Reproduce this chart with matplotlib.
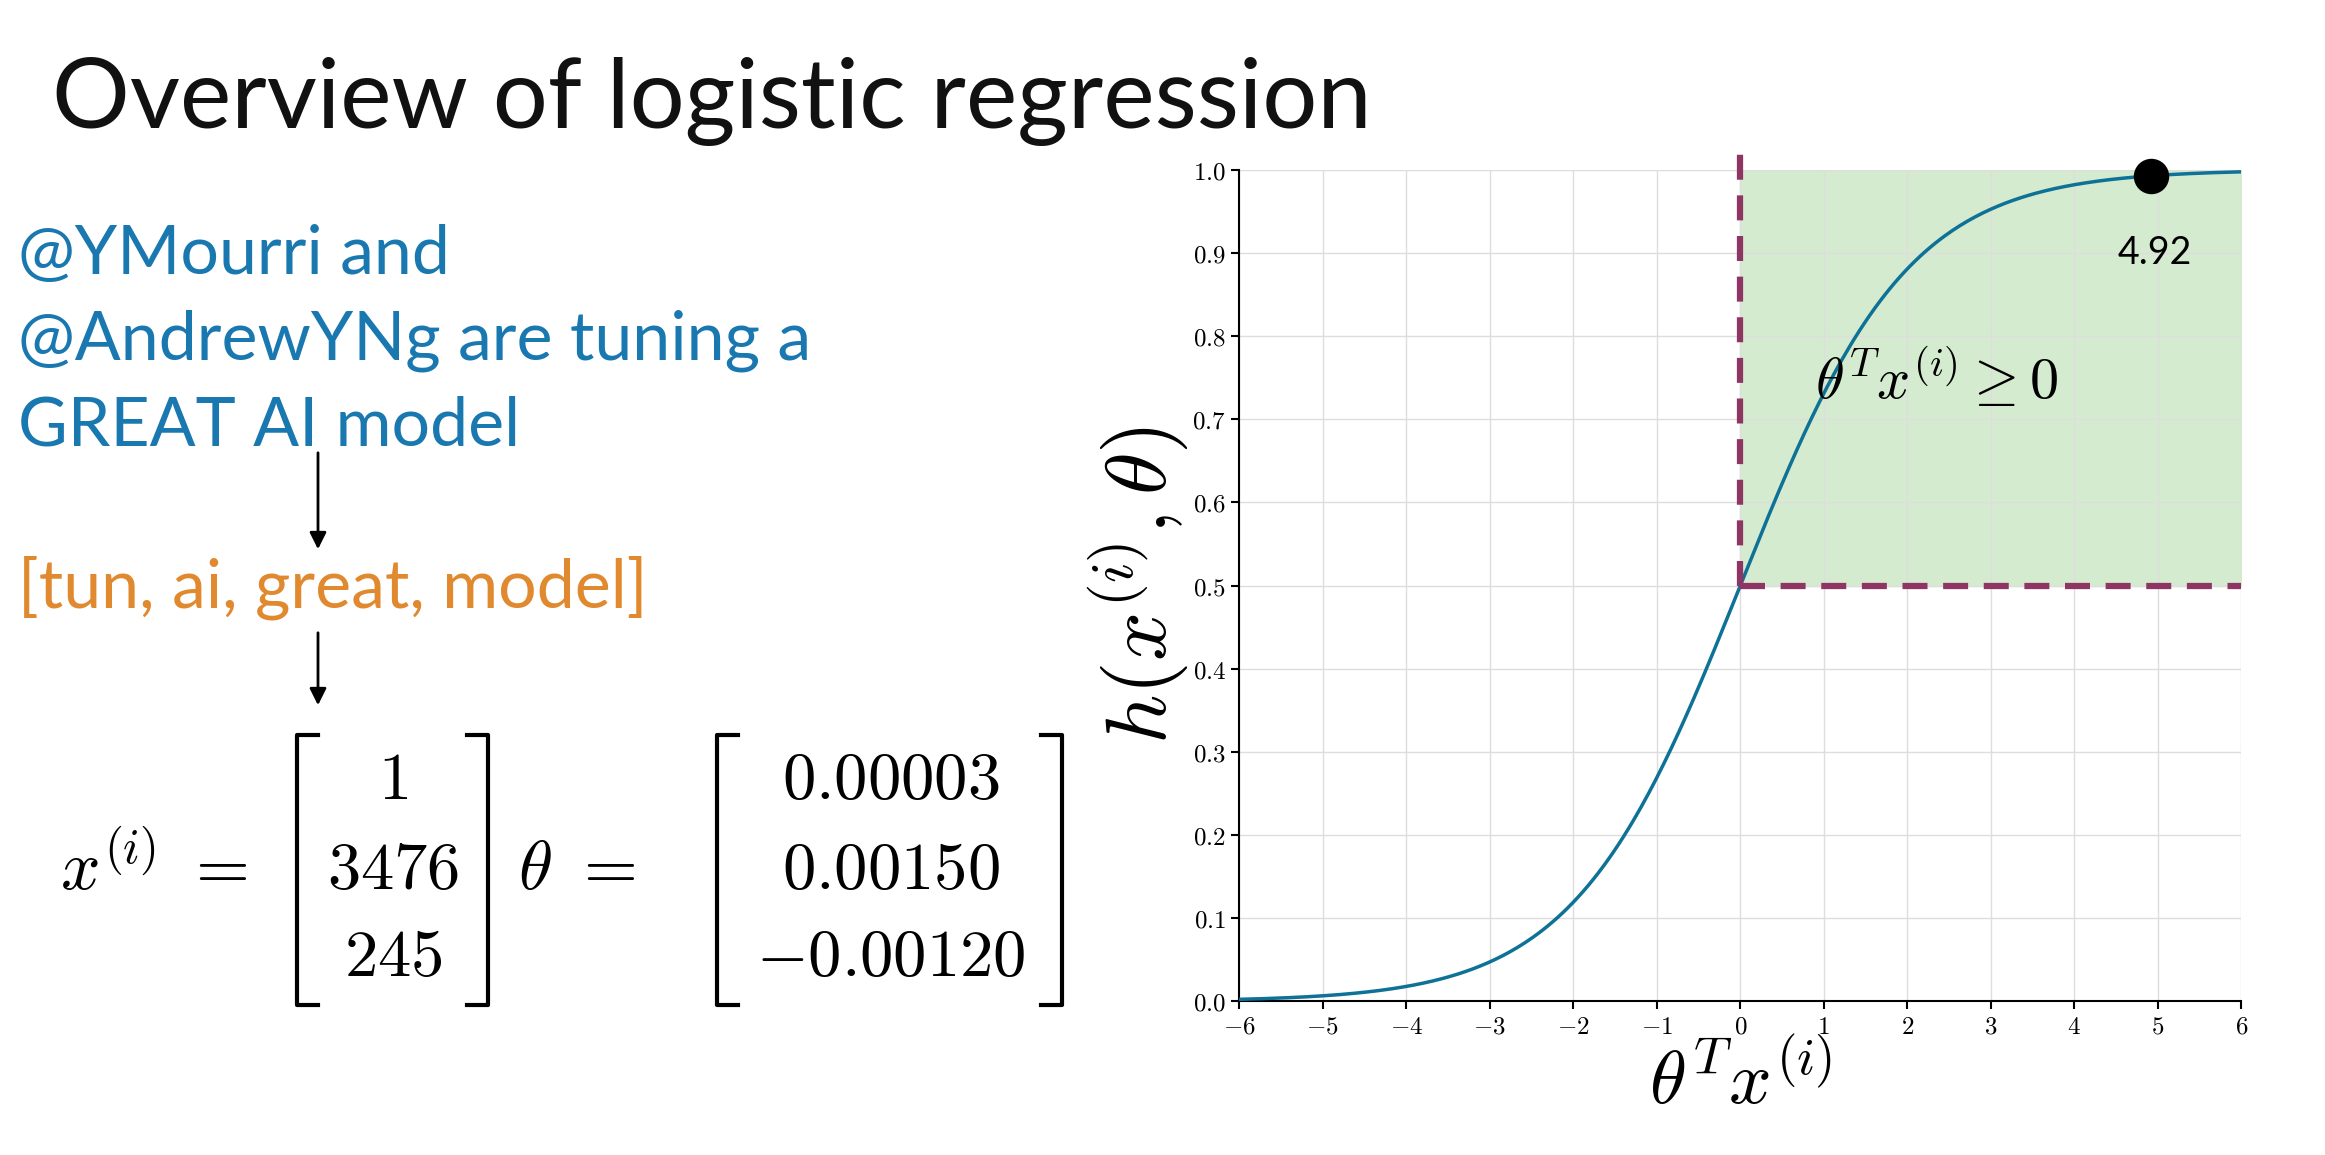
import numpy as np
import matplotlib
matplotlib.use("Agg")
import matplotlib.pyplot as plt

plt.rcParams['mathtext.fontset'] = 'cm'

title = "Overview of logistic regression"
tweet_lines = ["@YMourri and", "@AndrewYNg are tuning a", "GREAT AI model"]
tokens = "[tun, ai, great, model]"
x_vec = ["1", "3476", "245"]
theta_vec = ["0.00003", "0.00150", "-0.00120"]
point_z = 4.92
xticks = [-6, -5, -4, -3, -2, -1, 0, 1, 2, 3, 4, 5, 6]
yticks = [0.0, 0.1, 0.2, 0.3, 0.4, 0.5, 0.6, 0.7, 0.8, 0.9, 1.0]

fig = plt.figure(figsize=(23.25, 11.55), dpi=100)

def fx(px):  # reference px (1550 wide view) -> figure fraction
    return px / 1550

def fy(py):
    return 1 - py / 770

fig.text(fx(35), fy(68), title, fontsize=70, family='Lato', va='center', color='#111111')
blue = '#1a78b0'
for i, line in enumerate(tweet_lines):
    fig.text(fx(12), fy(170 + 57 * i), line, fontsize=49, family='Lato', color=blue, va='center')
fig.text(fx(12), fy(392), tokens, fontsize=49, family='Lato', color='#e0892f', va='center')

for y0, y1 in [(300, 368), (420, 472)]:
    fig.add_artist(matplotlib.patches.FancyArrowPatch((fx(212), fy(y0)), (fx(212), fy(y1)),
                   transform=fig.transFigure, arrowstyle='-|>', mutation_scale=25, lw=2, color='black'))

def bracket(xl, xr, yt, yb):
    tick = fx(14)
    for xs, sgn in [(xl, 1), (xr, -1)]:
        x = fx(xs)
        fig.add_artist(plt.Line2D([x + sgn * tick, x, x, x + sgn * tick], [fy(yt), fy(yt), fy(yb), fy(yb)],
                                  transform=fig.transFigure, color='black', lw=3))

def column(vals, xc, ys=(520, 580, 638)):
    for v, y in zip(vals, ys):
        fig.text(fx(xc), fy(y), '$' + v + '$', fontsize=48, ha='center', va='center')

fig.text(fx(40), fy(580), r'$x^{(i)}\ =$', fontsize=50, va='center')
bracket(198, 325, 490, 670)
column(x_vec, 262)
fig.text(fx(345), fy(580), r'$\theta\ =$', fontsize=50, va='center')
bracket(478, 708, 490, 670)
column(theta_vec, 594)

# sigmoid plot
ax = fig.add_axes([0.533, 0.133, 0.431, 0.72])
z = np.linspace(-6, 6, 400)
ax.fill_between([0, 6], 0.5, 1.0, color='#d5ebcf', zorder=0)
ax.plot(z, 1 / (1 + np.exp(-z)), color='#0e7196', lw=2.5, zorder=3)
purple = '#8e3563'
ax.plot([0, 0], [0.5, 1.03], color=purple, lw=4.5, ls=(0, (4, 2.5)), clip_on=False, zorder=4)
ax.plot([0, 6], [0.5, 0.5], color=purple, lw=4.5, ls=(0, (4, 2.5)), zorder=4)
ax.scatter([point_z], [1 / (1 + np.exp(-point_z))], s=600, color='black', zorder=5, clip_on=False)
ax.text(point_z + 0.05, 0.9, f"{point_z}", fontsize=27, family='Lato', ha='center', va='center')
ax.text(2.35, 0.75, r'$\theta^T x^{(i)} \geq 0$', fontsize=42, ha='center', va='center')
ax.set_xlim(-6, 6)
ax.set_ylim(0, 1)
ax.set_xticks(xticks)
ax.set_xticklabels([f'${v}$' for v in xticks], fontsize=18)
ax.set_yticks(yticks)
ax.set_yticklabels([f'${v:.1f}$' for v in yticks], fontsize=18)
ax.tick_params(length=6, width=1.5)
ax.grid(True, color='#dddddd', lw=1)
ax.set_axisbelow(True)
for s in ['top', 'right']:
    ax.spines[s].set_visible(False)
for s in ['left', 'bottom']:
    ax.spines[s].set_linewidth(1.5)
ax.set_xlabel(r'$\theta^T x^{(i)}$', fontsize=54, labelpad=4)
ax.set_ylabel(r'$h(x^{(i)}, \theta)$', fontsize=62, labelpad=2)

fig.savefig("out.png", dpi=100)
